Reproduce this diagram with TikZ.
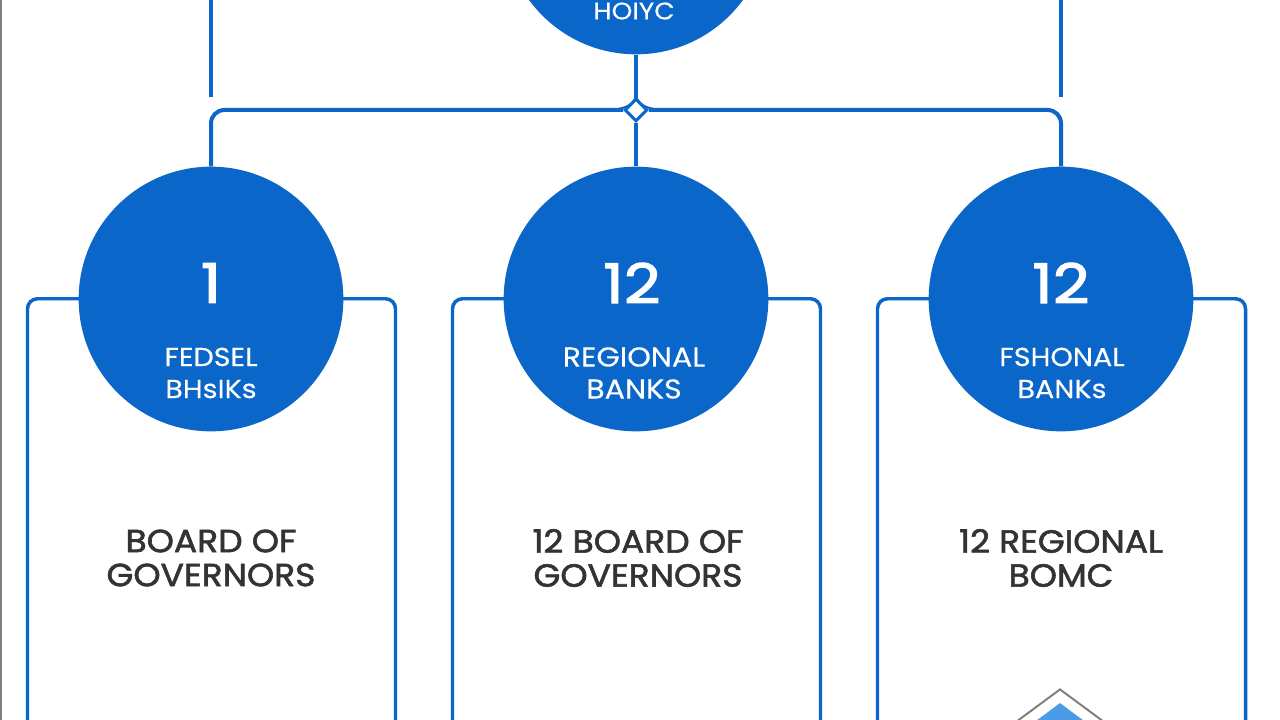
\documentclass[tikz,border=0pt]{standalone}
\usepackage{fontspec}
\setmainfont{Poppins}
\newfontfamily\labelfont[FakeStretch=1.1,FakeBold=0.2]{Poppins}
\newfontfamily\medfont[FakeStretch=1.08,FakeBold=1.8]{Poppins}
\newfontfamily\numfont[FakeStretch=1.17,FakeBold=2.2]{Poppins}
\usetikzlibrary{shapes.geometric,positioning}
\definecolor{fedblue}{HTML}{0A66C8}
\definecolor{inkgray}{HTML}{333333}
\definecolor{iconblue}{HTML}{4A9BE8}
\definecolor{edgegray}{HTML}{808080}

\begin{document}
\begin{tikzpicture}[x=0.75pt,y=-0.75pt,node distance=318.75pt,
            bank/.style={circle,fill=fedblue,minimum size=198.5pt,inner sep=0pt},
            panel/.style={draw=fedblue,line width=2.6pt,fill=white,rounded corners=7.5pt,minimum width=276pt,minimum height=360pt,inner sep=0pt},
            link/.style={draw=fedblue,line width=3pt,rounded corners=10pt},
            flare/.style={draw=fedblue,line width=1.6pt},
            banknum/.style={text=white,font=\numfont\fontsize{41}{41}\selectfont},
            banklabel/.style={text=white,align=center,font=\labelfont\fontsize{19.5}{24}\selectfont},
            paneltext/.style={text=inkgray,align=center,font=\medfont\fontsize{24}{25.5}\selectfont}]
            \clip (0,0) rectangle (1280,720);
            \fill[white] (0,0) rectangle (1280,720);
            \draw[edgegray,line width=1.5pt] (1,0) -- (1,720);

            % Define the panels behind the circles
            \node[panel,anchor=north] (fedbox) at (211.5,297)  {};
            \node[panel,right of=fedbox] (regbox)            {};
            \node[panel,right of=regbox] (ralbox)            {};

            % Define the circles
            \node[bank] (top) at (636,-78)   {};
            \node[bank] (fed) at (211,299)   {};
            \node[bank,right of=fed] (reg)   {};
            \node[bank,right of=reg] (ral)   {};
            \node[diamond,draw=fedblue,line width=2.2pt,fill=white,minimum size=17pt,inner sep=0pt] (hub) at (636,110) {};

            % Connect the circles
            \coordinate (lefttop) at (211,-5);
            \coordinate (leftend) at (211,97);
            \coordinate (righttop) at (1061,-5);
            \coordinate (rightend) at (1061,97);
            \coordinate (flaretop) at (636,93);
            \coordinate (flareleft) at (618,109);
            \coordinate (flareright) at (654,109);
            \draw[link] (lefttop) -- (leftend);
            \draw[link] (righttop) -- (rightend);
            \draw[link] (fed.north) |- (hub.west);
            \draw[link] (ral.north) |- (hub.east);
            \draw[link] (top.south) -- (hub.north);
            \draw[link] (hub.south) -- (reg.north);
            \draw[flare] (flaretop) .. controls (636,102) and (630,107) .. (flareleft);
            \draw[flare] (flaretop) .. controls (636,102) and (642,107) .. (flareright);

            % Texts
            \node[banklabel,font=\labelfont\fontsize{18}{24}\selectfont] (toplabel) at (634,11) {HOIYC};
            \node[banknum] (fednum) at (211,283) {1};
            \node[banknum] (regnum) at (632,283) {12};
            \node[banknum] (ralnum) at (1061,283) {12};
            \node[banklabel] (fedlabel) at (211,373) {FEDSEL\\BHsIKs};
            \node[banklabel,font=\labelfont\fontsize{20.5}{24}\selectfont] (reglabel) at (634,373) {REGIONAL\\BANKS};
            \node[banklabel] (rallabel) at (1062,373) {FSHONAL\\BANKs};
            \node[paneltext] (fedtext) at (211,558) {BOARD OF\\GOVERNORS};
            \node[paneltext] (regtext) at (638,558) {12 BOARD OF\\GOVERNORS};
            \node[paneltext] (raltext) at (1061,558) {12 REGIONAL\\BOMC};

            % Icon at the foot of the last panel
            \node[diamond,draw=edgegray,line width=1.5pt,minimum width=121.5pt,minimum height=90pt,inner sep=0pt] (iconout) at (1060,749) {};
            \node[diamond,fill=iconblue,minimum width=93pt,minimum height=69pt,inner sep=0pt] (iconin) at (1060,749) {};
\end{tikzpicture}
\end{document}
